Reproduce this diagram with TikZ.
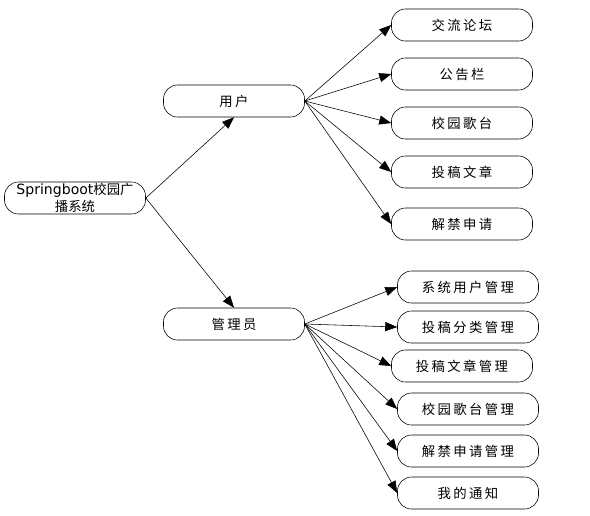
\documentclass[tikz,border=0pt]{standalone}
\usepackage{fontspec}
\setmainfont{Noto Sans CJK SC}
\newfontfamily\latinfont{DejaVu Sans}
\usetikzlibrary{arrows.meta,positioning}
\tikzset{>={Triangle[length=8.5pt,width=6.5pt]},
         module/.style={draw, rounded corners=10pt, minimum width=3.525cm,
           minimum height=0.8cm, inner sep=0pt,
           font=\fontsize{9.5}{11}\selectfont\addfontfeatures{LetterSpace=18}},
         every edge/.style={draw,->}}

\begin{document}
\begin{tikzpicture}[x=0.025cm,y=-0.025cm]
  \useasboundingbox (0,0) rectangle (590,515);
  \node[module, align=center,
        font=\fontsize{9.5}{12}\selectfont] (root) at (75,198)
    {{\latinfont\fontsize{10}{12}\selectfont Springboot}校园广\\播系统};
  \node[module] (user) at (234,101) {用户};
  \node[module] (admin) at (234,324) {管理员};
  \foreach \name/\y/\txt in {u-1/25/交流论坛, u-2/74/公告栏,
      u-3/123/校园歌台, u-4/172/投稿文章, u-5/224/解禁申请}
  {
    \node[module] (\name) at (462,\y) {\txt};
    \draw (user.east) edge (\name.west);
  }
  \foreach \name/\x/\y/\txt in {a-1/468/287/系统用户管理, a-2/468/327/投稿分类管理,
      a-3/462/366/投稿文章管理, a-4/468/409/校园歌台管理,
      a-5/468/451/解禁申请管理, a-6/468/493/我的通知}
  {
    \node[module] (\name) at (\x,\y) {\txt};
    \draw (admin.east) edge (\name.west);
  }
  \draw (root.east) edge (user.south)
        (root.east) edge (admin.north);
\end{tikzpicture}
\end{document}
